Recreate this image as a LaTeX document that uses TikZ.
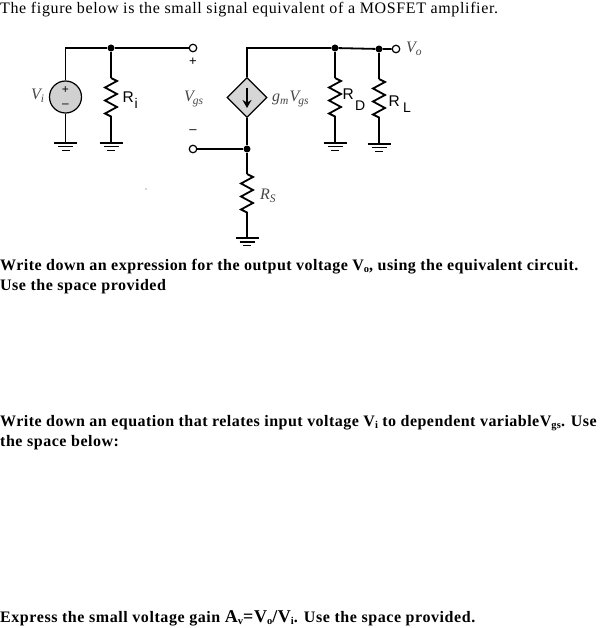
\documentclass[tikz,border=0pt]{standalone}
\usepackage{fontspec}
\usetikzlibrary{shapes.geometric,arrows.meta}
\setmainfont{Liberation Serif}
\newfontfamily\lsans{Liberation Sans}
\newcommand{\bsub}[1]{\raisebox{-0.3ex}{\fontsize{10.5}{10.5}\selectfont #1}}
\newcommand{\isub}[1]{\raisebox{-0.35ex}{\fontsize{11.5}{11.5}\selectfont\itshape #1}}
\newcommand{\lsp}[1]{\addfontfeature{LetterSpace=#1}}
\newcommand{\bigf}[1]{{\fontsize{18}{18}\selectfont #1}}
\newcommand{\zzres}[2]{\draw[wire] (#1) -- ++(6,3) -- ++(-12,6.5) -- ++(12,6.5) -- ++(-12,6.5) -- ++(12,6.5) -- ++(-12,6.5) -- ++(6,3) -- (#2);}
\newcommand{\gndsym}[1]{\draw[wire] ([xshift=-11.5]#1) -- ([xshift=11.5]#1); \draw[line width=1.4pt] ([xshift=-7.5,yshift=-3.8]#1) -- ([xshift=7.5,yshift=-3.8]#1); \draw[line width=1.8pt] ([xshift=-4,yshift=-7.5]#1) -- ([xshift=4,yshift=-7.5]#1);}
\tikzset{
  wire/.style={line width=1.8pt,black,line join=miter},
  termin/.style={circle,draw=black,line width=1.2pt,fill=white,minimum size=7.5pt,inner sep=0pt},
  junct/.style={circle,fill=black,minimum size=7pt,inner sep=0pt},
  para/.style={anchor=base west,inner sep=0pt,font=\fontsize{16}{16}\selectfont},
  parab/.style={anchor=base west,inner sep=0pt,font=\fontsize{16}{16}\selectfont\bfseries},
  lab/.style={inner sep=0pt,anchor=base west,text=black!72,font=\fontsize{16}{16}\selectfont\itshape},
  sanslab/.style={inner sep=0pt,anchor=base west,font=\fontsize{15.5}{15.5}\selectfont\lsans},
  sanssub/.style={inner sep=0pt,anchor=base west,font=\fontsize{14}{14}\selectfont\lsans},
  signlab/.style={inner sep=0pt,font=\fontsize{13}{13}\selectfont\lsans},
  srcsign/.style={inner sep=0pt,font=\fontsize{12}{10}\selectfont\lsans},
}
\begin{document}
\begin{tikzpicture}[x=1pt,y=-1pt]
\useasboundingbox (0,0) rectangle (603,628);
% points
\coordinate (cnA) at (65.5,48);
\node[junct] (jA) at (111,48) {};
\node[termin] (tA) at (193,48) {};
\node[termin] (tB) at (193,149) {};
\node[circle,draw=black,line width=1.2pt,fill=black!18,minimum size=32pt,inner sep=0pt] (src) at (65.5,97) {};
\coordinate (gA) at (65.5,143);
\coordinate (rAt) at (111,78);
\coordinate (rAb) at (111,117);
\coordinate (gB) at (111,143);
\coordinate (cnB) at (247,48);
\node[diamond,draw=black,line width=1.2pt,fill=black!16,minimum size=40pt,inner sep=0pt,aspect=1] (dep) at (247,97.5) {};
\node[junct] (jB) at (247,149) {};
\coordinate (rSt) at (247,174);
\coordinate (rSb) at (247,213);
\coordinate (gS) at (247,238);
\node[junct] (jD) at (335,48) {};
\node[junct] (jL) at (379,49) {};
\node[termin] (tO) at (396,49) {};
\coordinate (rDt) at (335,78);
\coordinate (rDb) at (335,117);
\coordinate (gD) at (335,143);
\coordinate (rLt) at (379,79);
\coordinate (rLb) at (379,118);
\coordinate (gL) at (379,144);
\coordinate (arT) at (247,88);
\coordinate (arB) at (247,108);
% wires
\draw[wire] (src.north) -- (cnA) -- (jA) -- (tA);
\draw[wire] (src.south) -- (gA);
\draw[wire] (jA) -- (rAt);
\zzres{rAt}{rAb}
\draw[wire] (rAb) -- (gB);
\draw[wire] (tB) -- (jB);
\draw[wire] (dep.north) -- (cnB) -- (jD) -- (jL) -- (tO);
\draw[wire] (dep.south) -- (jB) -- (rSt);
\zzres{rSt}{rSb}
\draw[wire] (rSb) -- (gS);
\draw[wire] (jD) -- (rDt);
\zzres{rDt}{rDb}
\draw[wire] (rDb) -- (gD);
\draw[wire] (jL) -- (rLt);
\zzres{rLt}{rLb}
\draw[wire] (rLb) -- (gL);
\gndsym{gA}\gndsym{gB}\gndsym{gS}\gndsym{gD}\gndsym{gL}
\draw[line width=2pt,-{Stealth[length=8pt,width=9pt]}] (arT) -- (arB);
% source signs
\node[srcsign] (sp) at (65.5,90.5) {+};
\node[srcsign] (sm) at (65.5,105.5) {–};
% labels
\node[signlab] (lp) at (193,62) {+};
\node[signlab] (lm) at (193,132) {–};
\node[lab] (lVi) at (31,100) {V\isub{i}};
\node[lab] (lVgs) at (184,102) {V\hspace{-1pt}\isub{gs}};
\node[lab] (lgm) at (272,102) {g\isub{m}\hspace{1pt}V\hspace{-1pt}\isub{gs}};
\node[lab] (lVo) at (406,53) {V\isub{o}};
\node[lab] (lRs) at (260,200) {R\isub{S}};
\node[sanslab] (lRi) at (122.5,103) {R};
\node[sanssub] (lRis) at (134.5,109) {i};
\node[sanslab] (lRd) at (342.5,100) {R};
\node[sanssub] (lRds) at (355,111) {D};
\node[sanslab] (lRl) at (388.5,106.5) {R};
\node[sanssub] (lRls) at (403,113) {L};
\node[circle,fill=black!70,inner sep=0pt,minimum size=1.4pt] (speck) at (146,189) {};
% text
\node[para] (t1) at (0,14) {\lsp{3.95}The figure below is the small signal equivalent of a MOSFET amplifier.};
\node[parab] (t2) at (0,270) {\lsp{2.9}Write down an expression for the output voltage V\bsub{o}, using the equivalent circuit.};
\node[parab] (t3) at (0,290) {\lsp{3.2}Use the space provided};
\node[parab] (t4) at (0,426) {\lsp{2.95}Write down an equation that relates input voltage V\bsub{i} to dependent variableV\bsub{gs}. Use};
\node[parab] (t5) at (0,446) {\lsp{3.3}the space below:};
\node[parab] (t6) at (0,622) {\lsp{3.55}Express the small voltage gain \bigf{A}\bsub{v}\bigf{=V}\bsub{o}\bigf{/V}\bsub{i}. Use the space provided.};
\end{tikzpicture}
\end{document}
